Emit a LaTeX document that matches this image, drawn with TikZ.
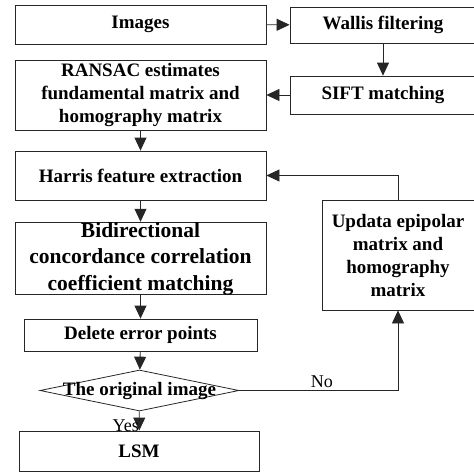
\documentclass[tikz,border=0pt]{standalone}
\usepackage{fontspec}
\setmainfont{Liberation Serif}
\usetikzlibrary{arrows.meta,shapes.geometric}

\begin{document}
\begin{tikzpicture}[x=1pt,y=-1pt,->,>={Triangle[length=13pt,width=12pt]},line width=0.8pt,
    every node/.style={draw=black!85,align=center,inner sep=0pt,font=\bfseries\fontsize{19}{23}\selectfont},
    lbl/.style={draw=none,font=\fontsize{18}{20}\selectfont}]

    \useasboundingbox (0,0) rectangle (474,474);

    \tikzstyle{every path}=[draw=black!85]

    \node[minimum width=251pt, minimum height=39pt]  (images)  at (140.5,24.5) {Images};
    \node[minimum width=186pt, minimum height=36pt]  (wallis)  at (383,25)     {Wallis filtering};
    \node[minimum width=186pt, minimum height=38pt]  (sift)    at (383,95)     {SIFT matching};
    \node[minimum width=251pt, minimum height=70pt]  (ransac)  at (140.5,95)   {RANSAC estimates\\fundamental matrix and\\homography matrix};
    \node[minimum width=251pt, minimum height=49pt]  (harris)  at (140.5,175.5) {Harris feature extraction};
    \node[minimum width=251pt, minimum height=69pt,
          font=\bfseries\fontsize{21.5}{26.5}\selectfont] (bidir) at (140.5,258.5)
          {Bidirectional\\concordance correlation\\coefficient matching};
    \node[minimum width=152pt, minimum height=110pt] (update)  at (398,255)    {Updata epipolar\\matrix and\\homography\\matrix};
    \node[minimum width=233pt, minimum height=32pt]  (delete)  at (140.5,335)  {Delete error points};
    \node[diamond, minimum width=199pt, minimum height=41pt] (check) at (139.5,390.5)
          {\makebox[0pt][c]{The original image}};
    \node[minimum width=240pt, minimum height=40pt]  (lsm)     at (139,451)    {LSM};

    \path (images) edge (wallis)
          (wallis) edge (sift)
          (sift)   edge (ransac)
          (ransac) edge (harris)
          (harris) edge (bidir)
          (bidir)  edge (delete)
          (delete) edge (check)
          (check)  edge node[lbl, pos=0.75, left=0pt] {Yes} (lsm)
    ;
    \draw (update.north) |- (harris.east);
    \draw (check.east) -| node[lbl, pos=0.26, above=2pt] {No} (update.south);
\end{tikzpicture}
\end{document}
